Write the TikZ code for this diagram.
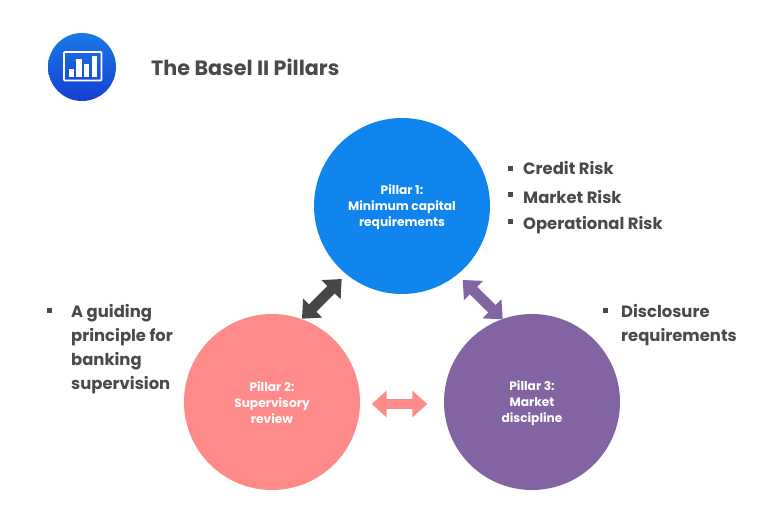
\documentclass[tikz,border=0pt]{standalone}
\usepackage{fontspec}
\setmainfont{Poppins}
\usetikzlibrary{arrows.meta}
\definecolor{tgray}{HTML}{4A4A4A}
\definecolor{cblue}{HTML}{0F85ED}
\definecolor{cpink}{HTML}{FF8A8A}
\definecolor{cpurple}{HTML}{8264A2}
\definecolor{cdark}{HTML}{474747}
\definecolor{icontop}{HTML}{1A78E6}
\definecolor{iconbot}{HTML}{1440D2}
\tikzset{
  pillar/.style={circle,minimum size=176pt,inner sep=0pt},
  pillarlabel/.style={inner sep=0pt,text=white,align=center,font=\fontsize{12.2}{16}\selectfont\bfseries},
  itemtext/.style={anchor=base west,inner sep=0pt,text=tgray,font=\fontsize{16.4}{24}\selectfont\bfseries,align=left},
  bulletmark/.style={fill=tgray,minimum size=5pt,inner sep=0pt,rectangle},
  dbl/.style={line width=10.5pt,{Triangle[length=15pt,width=26pt]}-{Triangle[length=15pt,width=26pt]}},
  iconbar/.style={fill=white}
}
\begin{document}
\begin{tikzpicture}[x=1pt,y=-1pt]
\useasboundingbox (0,0) rectangle (768,518);
\fill[white] (0,0) rectangle (768,518);
% icon
\node[circle,minimum size=68pt,inner sep=0pt,top color=icontop,bottom color=iconbot] (icon) at (82,67) {};
\draw[white,line width=1.7pt,rounded corners=0.8pt] (64,52) rectangle (101.5,80.5);
\fill[iconbar] (68.5,69.5) rectangle (73.5,77.3);
\fill[iconbar] (76,59) rectangle (81.7,77.3);
\fill[iconbar] (84.3,64) rectangle (89.3,77.3);
\fill[iconbar] (91.7,55.7) rectangle (97,77.3);
% title
\node[anchor=base west,inner sep=0pt,text=tgray,font=\fontsize{20.7}{24}\selectfont\bfseries] (title) at (151,76) {The Basel II Pillars};
% pillars
\node[pillar,fill=cblue] (p1) at (402,206) {};
\node[pillar,fill=cpink] (p2) at (272,402) {};
\node[pillar,fill=cpurple] (p3) at (532,402) {};
\node[pillarlabel] (l1) at (402,207) {Pillar 1:\\Minimum capital\\requirements};
\node[pillarlabel] (l2) at (272,403) {Pillar 2:\\Supervisory\\review};
\node[pillarlabel] (l3) at (532,403) {Pillar 3:\\Market\hspace*{7pt}\\discipline};
% connectors
\coordinate (a1) at (341.7,279); \coordinate (a2) at (302,318.7);
\coordinate (b1) at (462.7,280); \coordinate (b2) at (502.7,319.3);
\coordinate (c1) at (371.7,404); \coordinate (c2) at (427.3,404);
\draw[dbl,cdark] (a1) -- (a2);
\draw[dbl,cpurple] (b1) -- (b2);
\draw[dbl,cpink] (c1) -- (c2);
% lists
\node[bulletmark] (b11) at (510,169) {};
\node[itemtext] (t11) at (523,175) {Credit Risk};
\node[bulletmark] (b12) at (510,195) {};
\node[itemtext] (t12) at (523,204) {Market Risk};
\node[bulletmark] (b13) at (510,222) {};
\node[itemtext] (t13) at (523,230) {Operational Risk};
\node[bulletmark] (b21) at (49,311) {};
\node[itemtext] (t21) at (71,389.5) {A guiding\\principle for\\banking\\supervision};
\node[bulletmark] (b31) at (605,311) {};
\node[itemtext] (t31) at (621,341.5) {Disclosure\\requirements};
\end{tikzpicture}
\end{document}
